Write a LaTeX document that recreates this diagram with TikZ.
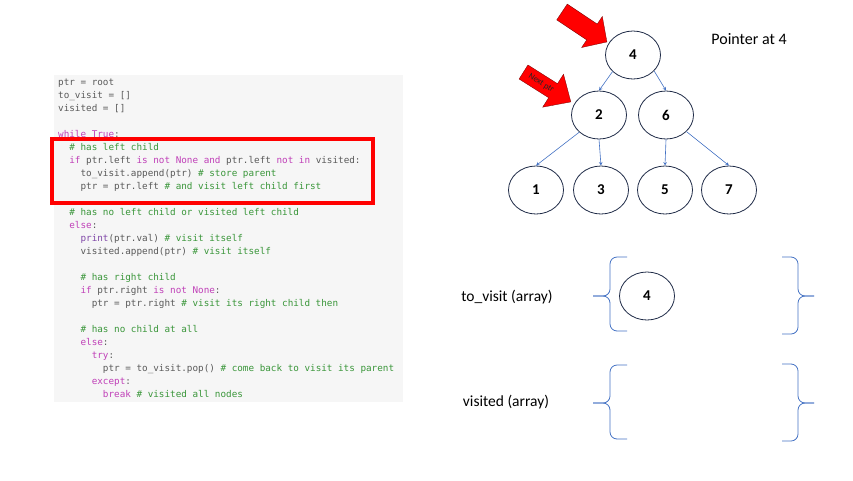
\documentclass[tikz,border=0pt]{standalone}
\usepackage{fontspec}
\setmainfont{Carlito}
\setmonofont{DejaVu Sans Mono}
\usepackage{tikz}
\usetikzlibrary{shapes}

\definecolor{codebg}{RGB}{246,246,246}
\definecolor{codetxt}{RGB}{90,90,90}
\definecolor{codekw}{RGB}{192,64,184}
\definecolor{codecmt}{RGB}{58,150,58}
\definecolor{codefn}{RGB}{128,72,168}
\definecolor{edgeblue}{RGB}{68,114,196}
\definecolor{ellline}{RGB}{32,44,72}

\newcommand{\kw}[1]{\textcolor{codekw}{#1}}
\newcommand{\cmt}[1]{\textcolor{codecmt}{#1}}
\newcommand{\fn}[1]{\textcolor{codefn}{#1}}

\tikzset{
  treenode/.style={ellipse, draw=ellline, line width=0.8pt, minimum width=55pt, minimum height=48pt, inner sep=0pt, font=\fontsize{15}{18}\selectfont\bfseries},
  treeedge/.style={->, >=stealth, draw=edgeblue, line width=0.6pt},
  bracket/.style={draw=edgeblue, line width=0.8pt, rounded corners=7pt},
  redarrow/.style={fill=red, draw=red!45!black, line width=0.3pt},
  arraytext/.style={anchor=base, font=\fontsize{15.5}{18}\selectfont}
}

\begin{document}
\begin{tikzpicture}[x=1pt,y=-1pt]
\useasboundingbox[fill=white] (0,0) rectangle (853,480);

% code listing
\fill[codebg] (54,75) rectangle (403,402);
\node[anchor=north west, inner sep=0pt, align=left, text=codetxt,
  font=\ttfamily\fontsize{9.3}{13}\selectfont] (code) at (58,79) {%
ptr = root\\
to\_visit = []\\
visited = []\\
\mbox{}\\
\kw{while True}:\\
~~\cmt{\# has left child}\\
~~\kw{if} ptr.left \kw{is not None and} ptr.left \kw{not in} visited:\\
~~~~to\_visit.append(ptr) \cmt{\# store parent}\\
~~~~ptr = ptr.left \cmt{\# and visit left child first}\\
\mbox{}\\
~~\cmt{\# has no left child or visited left child}\\
~~\kw{else}:\\
~~~~\fn{print}(ptr.val) \cmt{\# visit itself}\\
~~~~visited.append(ptr) \cmt{\# visit itself}\\
\mbox{}\\
~~~~\cmt{\# has right child}\\
~~~~\kw{if} ptr.right \kw{is not None}:\\
~~~~~~ptr = ptr.right \cmt{\# visit its right child then}\\
\mbox{}\\
~~~~\cmt{\# has no child at all}\\
~~~~\kw{else}:\\
~~~~~~\kw{try}:\\
~~~~~~~~ptr = to\_visit.pop() \cmt{\# come back to visit its parent}\\
~~~~~~\kw{except}:\\
~~~~~~~~\kw{break} \cmt{\# visited all nodes}};
\draw[red, line width=4pt] (52,139) rectangle (373,203);

% tree
\node[treenode] (n4) at (633,55) {4};
\node[treenode] (n2) at (599,115) {2};
\node[treenode] (n6) at (666,115) {6};
\node[treenode] (n1) at (536,190) {1};
\node[treenode] (n3) at (601,190) {3};
\node[treenode] (n5) at (665,190) {5};
\node[treenode] (n7) at (729,190) {7};

\draw[treeedge] (n4.219) -- (n2.north);
\draw[treeedge] (n4.323) -- (n6.north);
\draw[treeedge] (n2.221) -- (n1.north);
\draw[treeedge] (n2.south) -- (n3.north);
\draw[treeedge] (n6.south) -- (n5.north);
\draw[treeedge] (n6.321) -- (n7.north);

\node[anchor=base, font=\fontsize{16}{19}\selectfont] (ptrtext) at (749,44) {Pointer at 4};

% pointers
\begin{scope}[shift={(562,12)}, rotate=-33.7]
\draw[redarrow] (0,-9.5) -- (36,-9.5) -- (36,-18.7) -- (54,0) -- (36,18.7) -- (36,9.5) -- (0,9.5) -- cycle;
\end{scope}
\begin{scope}[shift={(523.5,72)}, rotate=-32.3]
\draw[redarrow] (0,-8.3) -- (35,-8.3) -- (35,-19.5) -- (56,0) -- (35,19.5) -- (35,8.3) -- (0,8.3) -- cycle;
\node[rotate=-32.3, inner sep=0pt, text=black!85, font=\fontsize{8.5}{9}\selectfont] (nextptr) at (21,0) {Next ptr};
\end{scope}

% arrays
\node[arraytext] (tvtext) at (507,301) {to\_visit (array)};
\node[arraytext] (vtext) at (506,406) {visited (array)};
\node[treenode] (q4) at (647,296) {4};

\draw[bracket] (627,257) -- (610,257) -- (610,296) -- (593,296);
\draw[bracket] (627,331) -- (610,331) -- (610,296) -- (593,296);
\draw[bracket] (782,257) -- (798,257) -- (798,296) -- (814,296);
\draw[bracket] (782,334) -- (798,334) -- (798,296) -- (814,296);

\draw[bracket] (627,365) -- (610,365) -- (610,403) -- (593,403);
\draw[bracket] (627,439) -- (610,439) -- (610,403) -- (593,403);
\draw[bracket] (782,364) -- (798,364) -- (798,403) -- (814,403);
\draw[bracket] (782,441) -- (798,441) -- (798,403) -- (814,403);
\end{tikzpicture}
\end{document}
